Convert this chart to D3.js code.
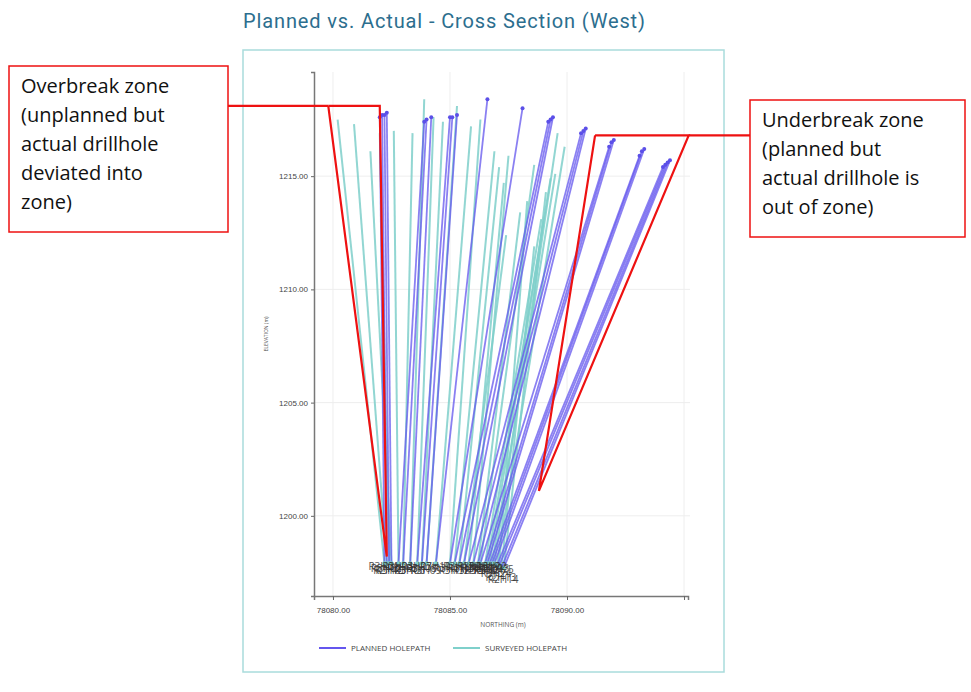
<!DOCTYPE html>
<html>
<head>
<meta charset="utf-8">
<script src="https://cdn.jsdelivr.net/npm/d3@7"></script>
<style>
body { margin: 0; background: #fff; font-family: "Open Sans", sans-serif; }
</style>
</head>
<body>
<svg id="chart" width="971" height="692"></svg>
<script>
// hole ids, collar northing, planned toe (northing, elevation), surveyed toe (northing, elevation)
var holeIds = ["R3H01","R3H02","R3H03","R3H04","R3H05","R3H06","R3H07","R3H08","R3H09","R3H10",
  "R3H11","R3H12","R3H13","R3H14","R3H15","R3H16","R3H17","R3H18","R3H19","R3H20",
  "R3H21","R3H22","R3H23","R3H24","R3H25","R2H13","R2H14","R2H15"];
var collarN = [78082.2,78082.3,78082.5, 78082.8,78083.0,78083.3, 78083.6,78083.8,78084.0, 78084.4,
  78085.0, 78085.2,78085.4,78085.6, 78085.8,78086.0,78086.2, 78086.3,78086.5,78086.6,
  78086.7,78086.8,78086.9, 78087.0,78087.1,78087.2,78087.3,78082.4];
var collarE = [1197.9,1197.9,1197.9,1197.9,1197.9,1197.9,1197.9,1197.9,1197.9,1197.9,
  1197.9,1197.9,1197.9,1197.9,1197.9,1197.9,1197.9,1197.9,1197.9,1197.9,
  1197.9,1197.9,1197.9,1197.8,1197.8,1197.7,1197.7,1197.9];
var plannedN = [78082.0,78082.1,78082.3, 78083.9,78084.0,78084.2, 78085.0,78085.1,78085.3, 78086.6,
  78088.1, 78089.2,78089.3,78089.4, 78090.6,78090.7,78090.8, 78091.8,78091.9,78092.0,
  78093.1,78093.2,78093.3, 78094.1,78094.2,78094.3,78094.4,78082.2];
var plannedE = [1217.6,1217.7,1217.8, 1217.4,1217.5,1217.6, 1217.6,1217.6,1217.7, 1218.4,
  1218.0, 1217.4,1217.5,1217.6, 1216.9,1217.0,1217.1, 1216.3,1216.5,1216.6,
  1215.9,1216.1,1216.2, 1215.4,1215.5,1215.6,1215.7,1217.7];
var surveyedN = [78080.2,78080.9,78081.6, 78082.6,78083.4,78083.9, 78084.3,78084.7,78085.3, 78085.9,
  78086.3, 78086.9,78087.1,78087.4, 78087.3,78087.5,78088.0, 78088.6,78088.9,78089.3,
  78089.0,78089.5,78089.6, 78089.9,78088.3,78088.6,78089.1,78082.0];
var surveyedE = [1217.5,1217.3,1216.1, 1217.0,1216.9,1218.4, 1217.6,1217.4,1218.1, 1217.2,
  1217.5, 1216.1,1215.4,1212.4, 1214.7,1215.9,1213.4, 1215.5,1213.1,1214.9,
  1213.0,1215.1,1216.9, 1216.3,1213.9,1211.9,1214.3,1216.9];
var xTicks = [78080, 78085, 78090, 78095];
var yTicks = [1200, 1205, 1210, 1215];
// annotation outlines in data coordinates
var overbreakN = [78079.8, 78082.0, 78082.3, 78079.8];
var overbreakE = [1218.1, 1218.1, 1198.2, 1218.1];
var underbreakN = [78091.2, 78095.2, 78088.8, 78091.2];
var underbreakE = [1216.8, 1216.8, 1201.1, 1216.8];

var svg = d3.select("#chart");
var x = d3.scaleLinear().domain([78079.19, 78095.17]).range([314, 688]);
var y = d3.scaleLinear().domain([1196.46, 1219.6]).range([596, 72]);

svg.append("text").attr("x", 243).attr("y", 28).attr("fill", "#2c6e8e")
  .attr("font-family", "Roboto, sans-serif").attr("font-size", 20).attr("textLength", 402).text("Planned vs. Actual - Cross Section (West)");
svg.append("rect").attr("x", 243).attr("y", 50).attr("width", 481).attr("height", 622)
  .attr("fill", "none").attr("stroke", "#a9dcdc").attr("stroke-width", 1.5);

// grid
svg.append("g").selectAll("line").data(xTicks).enter().append("line")
  .attr("x1", function(d) { return x(d); }).attr("x2", function(d) { return x(d); })
  .attr("y1", 72).attr("y2", 596).attr("stroke", "#eee");
svg.append("g").selectAll("line").data(yTicks).enter().append("line")
  .attr("x1", 314).attr("x2", 690).attr("y1", function(d) { return y(d); })
  .attr("y2", function(d) { return y(d); }).attr("stroke", "#eee");

var xAxis = svg.append("g").attr("transform", "translate(0,596)")
  .call(d3.axisBottom(x).tickValues(xTicks).tickSize(4).tickFormat(function(d) { return d === 78095 ? "" : d.toFixed(2); }));
var yAxis = svg.append("g").attr("transform", "translate(314,0)")
  .call(d3.axisLeft(y).tickValues(yTicks).tickSize(3).tickFormat(function(d) { return d.toFixed(2); }));
[xAxis, yAxis].forEach(function(a) {
  a.select(".domain").attr("stroke", "#777").attr("stroke-width", 1.5);
  a.selectAll("text").attr("font-size", 8).attr("fill", "#444");
  a.selectAll(".tick line").attr("stroke", "#666");
});
xAxis.selectAll("text").attr("dy", 10);
svg.append("text").attr("x", 503).attr("y", 627).attr("text-anchor", "middle")
  .attr("font-size", 6.5).attr("fill", "#555").text("NORTHING (m)");
svg.append("text").attr("transform", "translate(268,334) rotate(-90)").attr("text-anchor", "middle")
  .attr("font-size", 5).attr("fill", "#555").text("ELEVATION (m)");

var holes = holeIds.map(function(id, i) {
  return { id: id, cn: collarN[i], ce: collarE[i], pn: plannedN[i], pe: plannedE[i], sn: surveyedN[i], se: surveyedE[i] };
});

var g = svg.append("g");
g.selectAll(".surv").data(holes).enter().append("line")
  .attr("x1", function(d) { return x(d.cn); }).attr("y1", function(d) { return y(d.ce); })
  .attr("x2", function(d) { return x(d.sn); }).attr("y2", function(d) { return y(d.se); })
  .attr("stroke", "#7fd0cb").attr("stroke-width", 2).attr("opacity", 0.85);
g.selectAll(".plan").data(holes).enter().append("line")
  .attr("x1", function(d) { return x(d.cn); }).attr("y1", function(d) { return y(d.ce); })
  .attr("x2", function(d) { return x(d.pn); }).attr("y2", function(d) { return y(d.pe); })
  .attr("stroke", "#6456ee").attr("stroke-width", 1.8).attr("opacity", 0.75);
g.selectAll(".toe").data(holes).enter().append("circle")
  .attr("cx", function(d) { return x(d.pn); }).attr("cy", function(d) { return y(d.pe); })
  .attr("r", 2).attr("fill", "#5b4fe8");
g.selectAll(".collar").data(holes).enter().append("circle")
  .attr("cx", function(d) { return x(d.cn); }).attr("cy", function(d) { return y(d.ce); })
  .attr("r", 2.2).attr("fill", "#7fd0cb");
g.selectAll(".lbl").data(holes).enter().append("text")
  .attr("x", function(d) { return x(d.cn) - 16; }).attr("y", function(d, i) { return y(d.ce) + 7 + (i % 3) * 2 + (i > 24 ? 4 : 0); })
  .attr("font-size", 10).attr("fill", "#333").attr("opacity", 0.85).text(function(d) { return d.id; });

// legend
var leg = [["PLANNED HOLEPATH", "#6456ee", 319], ["SURVEYED HOLEPATH", "#7fd0cb", 453]];
leg.forEach(function(l) {
  svg.append("line").attr("x1", l[2]).attr("x2", l[2] + 27).attr("y1", 648).attr("y2", 648)
    .attr("stroke", l[1]).attr("stroke-width", 2);
  svg.append("text").attr("x", l[2] + 32).attr("y", 651).attr("font-size", 8).attr("fill", "#444").text(l[0]);
});

// annotations
var outline = d3.line().x(function(d) { return x(d[0]); }).y(function(d) { return y(d[1]); });
function poly(ns, es) { return ns.map(function(n, i) { return [n, es[i]]; }); }
svg.append("path").attr("d", outline(poly(overbreakN, overbreakE))).attr("fill", "none")
  .attr("stroke", "#ee1111").attr("stroke-width", 2.2);
svg.append("path").attr("d", outline(poly(underbreakN, underbreakE))).attr("fill", "none")
  .attr("stroke", "#ee1111").attr("stroke-width", 2.2);
svg.append("line").attr("x1", 228).attr("x2", x(overbreakN[0])).attr("y1", y(overbreakE[0])).attr("y2", y(overbreakE[0]))
  .attr("stroke", "#ee1111").attr("stroke-width", 2.2);
svg.append("line").attr("x1", x(underbreakN[1])).attr("x2", 750).attr("y1", y(underbreakE[1])).attr("y2", y(underbreakE[1]))
  .attr("stroke", "#ee1111").attr("stroke-width", 2.2);

function callout(bx, by, bw, bh, lines) {
  svg.append("rect").attr("x", bx).attr("y", by).attr("width", bw).attr("height", bh)
    .attr("fill", "#fff").attr("stroke", "#ee1111").attr("stroke-width", 1.5);
  var t = svg.append("text").attr("font-family", "'Open Sans', sans-serif").attr("font-size", 20).attr("fill", "#111");
  lines.forEach(function(s, i) {
    t.append("tspan").attr("x", bx + 12).attr("y", by + 27 + i * 29).text(s);
  });
}
callout(9, 66, 219, 166, ["Overbreak zone", "(unplanned but", "actual drillhole", "deviated into", "zone)"]);
callout(750, 100, 215, 137, ["Underbreak zone", "(planned but", "actual drillhole is", "out of zone)"]);
</script>
</body>
</html>
